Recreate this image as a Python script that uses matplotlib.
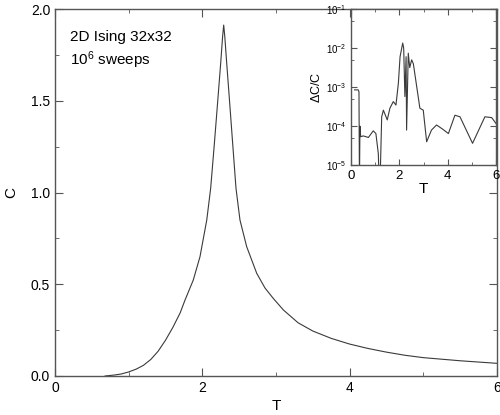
import numpy as np
import matplotlib
matplotlib.use('Agg')
import matplotlib.pyplot as plt
from matplotlib.ticker import MultipleLocator, LogLocator, NullFormatter

plt.rcParams['font.family'] = ['Liberation Sans', 'DejaVu Sans']
plt.rcParams['mathtext.fontset'] = 'custom'
plt.rcParams['mathtext.rm'] = 'Liberation Sans'
plt.rcParams['mathtext.it'] = 'Liberation Sans'

# specific heat C(T)
T_main = [0.68, 0.8, 0.9, 1.0, 1.1, 1.2, 1.3, 1.4, 1.5, 1.6, 1.7, 1.765, 1.877,
          1.968, 2.06, 2.113, 2.16, 2.203, 2.25, 2.275, 2.29, 2.305, 2.33,
          2.375, 2.415, 2.457, 2.511, 2.602, 2.738, 2.85, 2.963, 3.1, 3.3,
          3.5, 3.75, 4.0, 4.25, 4.5, 4.75, 5.0, 5.5, 6.0]
C_main = [0.0, 0.005, 0.011, 0.022, 0.037, 0.058, 0.09, 0.135, 0.195, 0.265,
          0.345, 0.414, 0.523, 0.65, 0.85, 1.023, 1.25, 1.468, 1.71, 1.85,
          1.913, 1.85, 1.71, 1.468, 1.25, 1.023, 0.85, 0.705, 0.56, 0.48,
          0.423, 0.36, 0.29, 0.245, 0.205, 0.174, 0.15, 0.13, 0.113, 0.1,
          0.083, 0.069]

# relative error dC/C (log10), inset
T_err = [0.15, 0.3, 0.33, 0.35, 0.37, 0.4, 0.51, 0.72, 0.92, 1.03, 1.13, 1.17,
         1.2, 1.27, 1.34, 1.5, 1.61, 1.75, 1.86, 1.96, 2.03, 2.14, 2.18, 2.23,
         2.28, 2.30, 2.37, 2.43, 2.51, 2.58, 2.72, 2.85, 2.99, 3.13, 3.33,
         3.54, 3.8, 4.03, 4.30, 4.51, 5.03, 5.54, 5.82, 6.0]
logE_err = [-3.07, -3.07, -3.12, -5.5, -4.0, -4.27, -4.25, -4.29, -4.12, -4.19,
            -4.7, -5.5, -5.5, -3.76, -3.59, -3.84, -3.54, -3.37, -3.46, -2.9,
            -2.22, -1.87, -2.0, -3.24, -2.22, -4.1, -2.13, -2.5, -2.30, -2.4,
            -2.99, -3.54, -3.59, -4.40, -4.1, -3.97, -4.08, -4.19, -3.72,
            -3.76, -4.44, -3.76, -3.78, -3.93]

line_col = '#3a3a3a'
spine_col = '#555555'

fig = plt.figure(figsize=(5.0, 4.15), dpi=100)
ax = fig.add_axes([0.11, 0.094, 0.884, 0.884])
ax.plot(T_main, C_main, color=line_col, lw=0.8)
ax.set_xlim(0, 6)
ax.set_ylim(0, 2.0)
ax.xaxis.set_major_locator(MultipleLocator(2))
ax.xaxis.set_minor_locator(MultipleLocator(1))
ax.yaxis.set_major_locator(MultipleLocator(0.5))
ax.yaxis.set_minor_locator(MultipleLocator(0.25))
ax.yaxis.set_major_formatter(plt.FormatStrFormatter('%.1f'))
ax.tick_params(which='both', direction='in', top=True, right=True,
               labelsize=10, color=spine_col)
ax.tick_params(which='major', length=6)
ax.tick_params(which='minor', length=3)
for s in ax.spines.values():
    s.set_color(spine_col)
    s.set_linewidth(1.0)
ax.set_xlabel('T', fontsize=11, labelpad=3)
ax.set_ylabel('C', fontsize=11, labelpad=9)
ax.text(0.033, 0.925, '2D Ising 32x32', transform=ax.transAxes, fontsize=11,
        va='center')
ax.text(0.033, 0.86, r'10$^{6}$ sweeps', transform=ax.transAxes, fontsize=11,
        va='center')

ins = fig.add_axes([0.702, 0.602, 0.29, 0.376])
ins.plot(T_err, 10.0 ** np.array(logE_err), color=line_col, lw=0.8)
ins.set_yscale('log')
ins.set_xlim(0, 6)
ins.set_ylim(1e-5, 1e-1)
ins.xaxis.set_major_locator(MultipleLocator(2))
ins.xaxis.set_minor_locator(MultipleLocator(1))
ins.yaxis.set_major_locator(LogLocator(base=10, numticks=10))
ins.yaxis.set_minor_locator(LogLocator(base=10, subs=[5.0], numticks=10))
ins.yaxis.set_minor_formatter(NullFormatter())
ins.tick_params(which='both', direction='in', top=True, right=True,
                color=spine_col)
ins.tick_params(axis='x', labelsize=9.5)
ins.tick_params(axis='y', labelsize=7)
ins.tick_params(which='major', length=4)
ins.tick_params(which='minor', length=2.5)
for s in ins.spines.values():
    s.set_color(spine_col)
    s.set_linewidth(1.0)
ins.set_xlabel('T', fontsize=11, labelpad=0)
ins.set_ylabel(r'$\Delta$C/C', fontsize=9, labelpad=2)

fig.savefig('out.png', dpi=100)
